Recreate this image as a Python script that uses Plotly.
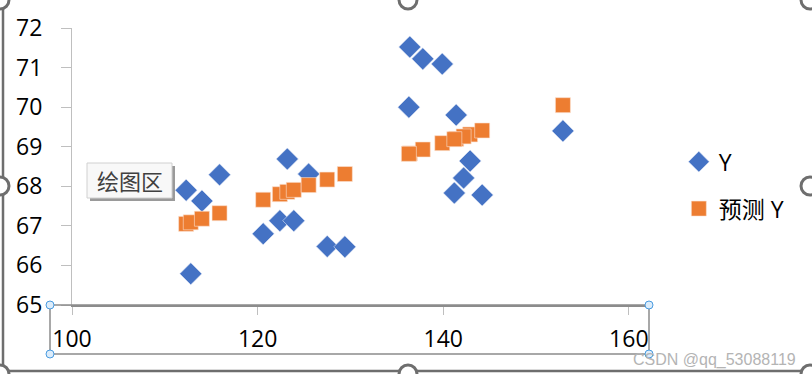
import plotly.graph_objects as go

# ---- data ----
x_vals = [112.3, 112.8, 114.0, 115.9, 120.6, 122.4, 123.2, 123.9, 125.5, 127.5, 129.4,
          136.4, 137.8, 139.9, 136.3, 141.4, 142.9, 142.2, 141.2, 144.2, 152.9]
y_actual = [67.90, 65.79, 67.63, 68.29, 66.80, 67.13, 68.69, 67.13, 68.31, 66.48, 66.47,
            71.52, 71.22, 71.09, 70.00, 69.80, 68.64, 68.21, 67.83, 67.78, 69.40]
y_pred = [67.05, 67.09, 67.18, 67.32, 67.66, 67.80, 67.86, 67.91, 68.03, 68.17, 68.31,
          68.83, 68.93, 69.09, 68.82, 69.20, 69.31, 69.26, 69.19, 69.41, 70.05]
series_names = ["Y", "预测 Y"]
x_ticks = [100, 120, 140, 160]
y_ticks = [65, 66, 67, 68, 69, 70, 71, 72]

BLUE = "#4472C4"
ORANGE = "#ED7D31"
FONT = "Open Sans, Noto Sans CJK SC, sans-serif"

fig = go.Figure()
fig.add_trace(go.Scatter(
    x=x_vals, y=y_actual, mode="markers", name=series_names[0], legendgroup="a",
    marker=dict(symbol="diamond", size=17, color=BLUE, line=dict(width=0.6, color="#dfe6f5")),
))
fig.add_trace(go.Scatter(
    x=x_vals, y=y_pred, mode="markers", name=series_names[1], legendgroup="b",
    marker=dict(symbol="square", size=15, color=ORANGE, line=dict(width=0.6, color="#fbe3d4")),
))

W, H = 812, 374
L, R, T, B = 72, 650, 28, 305

fig.update_layout(
    width=W, height=H, autosize=False,
    margin=dict(l=L, r=W - R, t=T, b=H - B, autoexpand=False),
    paper_bgcolor="white", plot_bgcolor="white",
    font=dict(family=FONT, size=20, color="#000000"),
    showlegend=True,
    legend=dict(
        xref="container", yref="container", x=0.836, y=0.625,
        xanchor="left", yanchor="top", traceorder="grouped",
        font=dict(family=FONT, size=23, color="#000000"),
        itemwidth=30, tracegroupgap=14, bgcolor="rgba(0,0,0,0)",
    ),
    xaxis=dict(
        range=[100, 100 + (R - L) / 9.28], tickvals=x_ticks, showgrid=False, zeroline=False,
        showline=True, linecolor="#8c8c8c", linewidth=1.5, automargin=False,
        ticks="outside", ticklen=8, tickcolor="#bfbfbf", tickwidth=1,
        ticklabelstandoff=5, tickfont=dict(family=FONT, size=23, color="#000000"),
    ),
    yaxis=dict(
        range=[65, 72], tickvals=y_ticks, showgrid=False, zeroline=False,
        showline=True, linecolor="#bfbfbf", linewidth=1, automargin=False,
        ticks="outside", ticklen=10, tickcolor="#bfbfbf", tickwidth=1,
        ticklabelstandoff=14, tickfont=dict(family=FONT, size=23, color="#000000"),
    ),
)


def px(xp):
    return (xp - L) / (R - L)


def py(yp):
    return (B - yp) / (B - T)


shapes = []
# selected chart frame
shapes.append(dict(type="line", xref="paper", yref="paper", x0=px(2), x1=px(812), y0=py(371), y1=py(371),
                   line=dict(color="#6e6e6e", width=2.5)))
shapes.append(dict(type="line", xref="paper", yref="paper", x0=px(3), x1=px(3), y0=py(0), y1=py(374),
                   line=dict(color="#6e6e6e", width=2.5)))
# axis selection box
shapes.append(dict(type="rect", xref="paper", yref="paper", x0=px(50), x1=px(649), y0=py(354), y1=py(305),
                   line=dict(color="#8c8c8c", width=1.5), fillcolor="rgba(0,0,0,0)"))
for (hx, hy) in [(50, 305), (50, 354), (649, 305), (649, 354)]:
    r = 4
    shapes.append(dict(type="circle", xref="paper", yref="paper",
                       x0=px(hx - r), x1=px(hx + r), y0=py(hy + r), y1=py(hy - r),
                       line=dict(color="#4a9be0", width=1), fillcolor="#dcecfa"))
# chart frame handles
for (hx, hy) in [(0, 0), (408, 0), (810, 0), (0, 186), (810, 186), (0, 374), (408, 374), (810, 374)]:
    r = 9
    shapes.append(dict(type="circle", xref="paper", yref="paper",
                       x0=px(hx - r), x1=px(hx + r), y0=py(hy + r), y1=py(hy - r),
                       line=dict(color="#6e6e6e", width=3), fillcolor="white"))
# tooltip box with shadow
shapes.append(dict(type="rect", xref="paper", yref="paper", x0=px(90), x1=px(175), y0=py(201), y1=py(166),
                   line=dict(width=0), fillcolor="#9a9a9a"))
shapes.append(dict(type="rect", xref="paper", yref="paper", x0=px(87), x1=px(172), y0=py(198), y1=py(163),
                   line=dict(color="#d0d0d0", width=1), fillcolor="#f8f8f8"))

fig.update_layout(shapes=shapes)

fig.add_annotation(xref="paper", yref="paper", x=px(130), y=py(181), text="绘图区",
                   showarrow=False, font=dict(family=FONT, size=22, color="#404040"),
                   xanchor="center", yanchor="middle")
fig.add_annotation(xref="paper", yref="paper", x=px(798), y=py(360), text="CSDN @qq_53088119",
                   showarrow=False, font=dict(family="Liberation Sans, sans-serif", size=16, color="#b4b4b4"),
                   xanchor="right", yanchor="middle")

fig.write_html("out.html", config={"displayModeBar": False},
               post_script="document.body.style.margin='0';document.body.style.overflow='hidden';")
